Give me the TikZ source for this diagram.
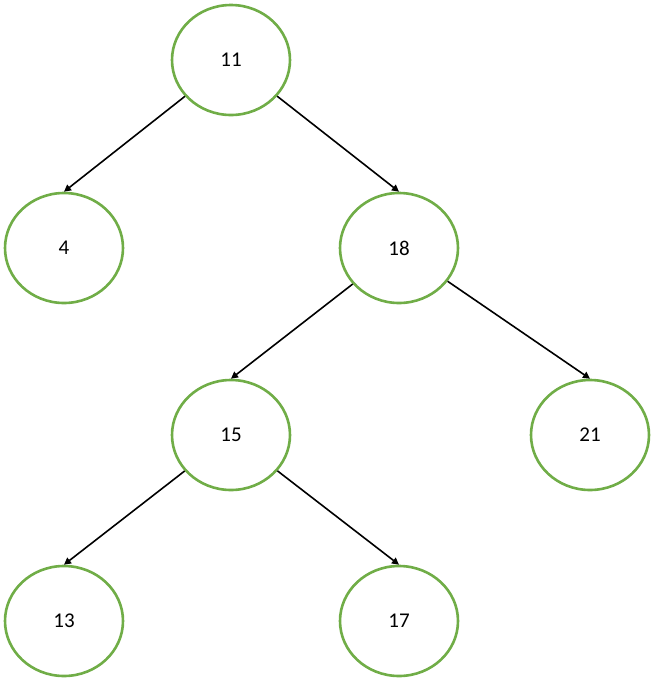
\documentclass[tikz,border=0pt]{standalone}
\usepackage{fontspec}
\setmainfont{Carlito}
\usetikzlibrary{shapes.geometric,arrows.meta}
\definecolor{tg}{RGB}{112,173,71}
\begin{document}
\begin{tikzpicture}[x=1pt,y=-1pt,
  tn/.style={ellipse,draw=tg,line width=2.6pt,minimum width=118pt,minimum height=110pt,inner sep=0pt,font=\fontsize{21}{24}\selectfont},
  ed/.style={line width=1.6pt,-{Triangle[length=7pt,width=7pt]}}]
\useasboundingbox (0,0) rectangle (656,681);
\node[tn] (n11) at (231,60) {11};
\node[tn] (n4) at (64,248) {4};
\node[tn] (n18) at (399,248) {18};
\node[tn] (n15) at (231,435) {15};
\node[tn] (n21) at (590,435) {21};
\node[tn] (n13) at (64,621) {13};
\node[tn] (n17) at (399,621) {17};
\draw[ed] (n11) -- (n4.north);
\draw[ed] (n11) -- (n18.north);
\draw[ed] (n18) -- (n15.north);
\draw[ed] (n18) -- (n21.north);
\draw[ed] (n15) -- (n13.north);
\draw[ed] (n15) -- (n17.north);
\end{tikzpicture}
\end{document}
